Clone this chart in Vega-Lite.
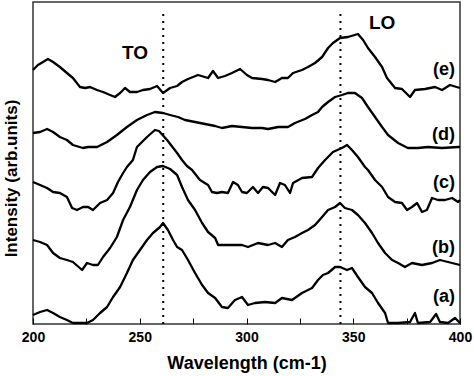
{
  "$schema": "https://vega.github.io/schema/vega-lite/v6.json",
  "width": 427,
  "height": 322,
  "autosize": {"type": "none"},
  "padding": {"left": 33, "top": 2, "right": 14, "bottom": 52},
  "background": "white",
  "config": {
    "view": {"stroke": "#333333", "strokeWidth": 1.5},
    "font": "Liberation Sans"
  },
  "datasets": {
    "spectra": [
      {"s":"e","x":200,"y":254},{"s":"e","x":202.3,"y":259},{"s":"e","x":204.7,"y":262},{"s":"e","x":207.0,"y":265},{"s":"e","x":209.4,"y":262},{"s":"e","x":212.6,"y":257},{"s":"e","x":215.9,"y":251},{"s":"e","x":218.7,"y":246},{"s":"e","x":222.0,"y":237},{"s":"e","x":224.4,"y":236},{"s":"e","x":226.7,"y":237},{"s":"e","x":230.0,"y":234},{"s":"e","x":232.8,"y":232},{"s":"e","x":236.1,"y":229},{"s":"e","x":238.4,"y":227},{"s":"e","x":240.8,"y":231},{"s":"e","x":243.1,"y":236},{"s":"e","x":245.4,"y":232},{"s":"e","x":248.7,"y":232},{"s":"e","x":251.5,"y":234},{"s":"e","x":254.8,"y":235},{"s":"e","x":258.1,"y":238},{"s":"e","x":260.9,"y":231},{"s":"e","x":264.2,"y":236},{"s":"e","x":267.5,"y":238},{"s":"e","x":269.8,"y":242},{"s":"e","x":272.6,"y":245},{"s":"e","x":277.3,"y":249},{"s":"e","x":282.0,"y":246},{"s":"e","x":284.3,"y":253},{"s":"e","x":286.7,"y":246},{"s":"e","x":289.9,"y":248},{"s":"e","x":293.2,"y":251},{"s":"e","x":297.0,"y":255},{"s":"e","x":300.2,"y":249},{"s":"e","x":302.6,"y":246},{"s":"e","x":307.3,"y":245},{"s":"e","x":310.1,"y":244},{"s":"e","x":313.4,"y":242},{"s":"e","x":316.6,"y":246},{"s":"e","x":319.4,"y":246},{"s":"e","x":321.8,"y":251},{"s":"e","x":326.0,"y":254},{"s":"e","x":328.8,"y":257},{"s":"e","x":332.1,"y":261},{"s":"e","x":335.4,"y":267},{"s":"e","x":338.2,"y":276},{"s":"e","x":340.5,"y":281},{"s":"e","x":343.8,"y":286},{"s":"e","x":347.5,"y":287},{"s":"e","x":352.2,"y":290},{"s":"e","x":354.6,"y":284},{"s":"e","x":356.9,"y":276},{"s":"e","x":360.2,"y":267},{"s":"e","x":363.5,"y":257},{"s":"e","x":365.8,"y":246},{"s":"e","x":369.6,"y":236},{"s":"e","x":372.8,"y":235},{"s":"e","x":376.6,"y":227},{"s":"e","x":378.9,"y":234},{"s":"e","x":383.6,"y":235},{"s":"e","x":388.3,"y":237},{"s":"e","x":391.6,"y":234},{"s":"e","x":395.3,"y":239},{"s":"e","x":400,"y":236},
      {"s":"d","x":200,"y":191},{"s":"d","x":203.3,"y":192},{"s":"d","x":206.6,"y":195},{"s":"d","x":209.4,"y":192},{"s":"d","x":212.6,"y":187},{"s":"d","x":215.9,"y":184},{"s":"d","x":218.7,"y":179},{"s":"d","x":223.4,"y":176},{"s":"d","x":225.8,"y":177},{"s":"d","x":230.0,"y":177},{"s":"d","x":234.7,"y":182},{"s":"d","x":239.3,"y":189},{"s":"d","x":244.0,"y":197},{"s":"d","x":248.7,"y":204},{"s":"d","x":253.4,"y":209},{"s":"d","x":257.1,"y":212},{"s":"d","x":260.9,"y":211},{"s":"d","x":264.2,"y":209},{"s":"d","x":267.9,"y":207},{"s":"d","x":271.2,"y":204},{"s":"d","x":275.9,"y":202},{"s":"d","x":280.6,"y":200},{"s":"d","x":285.3,"y":198},{"s":"d","x":288.5,"y":196},{"s":"d","x":293.2,"y":198},{"s":"d","x":297.9,"y":197},{"s":"d","x":302.6,"y":196},{"s":"d","x":307.3,"y":196},{"s":"d","x":310.1,"y":195},{"s":"d","x":314.8,"y":197},{"s":"d","x":319.4,"y":197},{"s":"d","x":322.7,"y":201},{"s":"d","x":327.4,"y":205},{"s":"d","x":330.7,"y":209},{"s":"d","x":333.5,"y":212},{"s":"d","x":335.4,"y":217},{"s":"d","x":338.2,"y":222},{"s":"d","x":341.5,"y":227},{"s":"d","x":344.7,"y":229},{"s":"d","x":347.5,"y":231},{"s":"d","x":350.8,"y":231},{"s":"d","x":354.1,"y":226},{"s":"d","x":356.9,"y":217},{"s":"d","x":360.2,"y":207},{"s":"d","x":363.5,"y":197},{"s":"d","x":366.3,"y":189},{"s":"d","x":371.0,"y":181},{"s":"d","x":375.6,"y":176},{"s":"d","x":380.3,"y":176},{"s":"d","x":385.0,"y":177},{"s":"d","x":391.6,"y":176},{"s":"d","x":399.1,"y":177},{"s":"d","x":400,"y":177},
      {"s":"c","x":200,"y":142},{"s":"c","x":203.3,"y":139},{"s":"c","x":206.6,"y":136},{"s":"c","x":209.4,"y":132},{"s":"c","x":212.6,"y":131},{"s":"c","x":215.9,"y":127},{"s":"c","x":218.3,"y":116},{"s":"c","x":220.6,"y":114},{"s":"c","x":223.4,"y":117},{"s":"c","x":225.8,"y":117},{"s":"c","x":228.1,"y":114},{"s":"c","x":231.4,"y":121},{"s":"c","x":234.7,"y":124},{"s":"c","x":237.5,"y":131},{"s":"c","x":239.8,"y":142},{"s":"c","x":242.2,"y":151},{"s":"c","x":244.0,"y":157},{"s":"c","x":246.8,"y":164},{"s":"c","x":248.7,"y":177},{"s":"c","x":253.4,"y":187},{"s":"c","x":257.1,"y":194},{"s":"c","x":259.0,"y":193},{"s":"c","x":262.8,"y":184},{"s":"c","x":267.5,"y":171},{"s":"c","x":269.8,"y":164},{"s":"c","x":272.1,"y":158},{"s":"c","x":274.5,"y":154},{"s":"c","x":278.2,"y":144},{"s":"c","x":282.0,"y":139},{"s":"c","x":283.8,"y":132},{"s":"c","x":286.2,"y":131},{"s":"c","x":288.5,"y":132},{"s":"c","x":291.3,"y":131},{"s":"c","x":293.7,"y":142},{"s":"c","x":296.0,"y":139},{"s":"c","x":297.9,"y":132},{"s":"c","x":300.2,"y":131},{"s":"c","x":303.0,"y":137},{"s":"c","x":305.4,"y":131},{"s":"c","x":307.7,"y":137},{"s":"c","x":310.1,"y":136},{"s":"c","x":313.4,"y":129},{"s":"c","x":315.7,"y":141},{"s":"c","x":318.0,"y":139},{"s":"c","x":320.4,"y":131},{"s":"c","x":321.8,"y":141},{"s":"c","x":326.0,"y":146},{"s":"c","x":330.7,"y":147},{"s":"c","x":333.5,"y":156},{"s":"c","x":336.8,"y":164},{"s":"c","x":340.5,"y":172},{"s":"c","x":344.7,"y":176},{"s":"c","x":347.1,"y":179},{"s":"c","x":349.4,"y":174},{"s":"c","x":352.2,"y":167},{"s":"c","x":355.5,"y":157},{"s":"c","x":356.9,"y":154},{"s":"c","x":360.2,"y":144},{"s":"c","x":363.5,"y":137},{"s":"c","x":366.3,"y":127},{"s":"c","x":369.6,"y":122},{"s":"c","x":372.8,"y":121},{"s":"c","x":375.2,"y":114},{"s":"c","x":377.5,"y":117},{"s":"c","x":379.9,"y":121},{"s":"c","x":382.2,"y":112},{"s":"c","x":384.5,"y":114},{"s":"c","x":386.9,"y":126},{"s":"c","x":389.7,"y":124},{"s":"c","x":393.0,"y":124},{"s":"c","x":396.3,"y":126},{"s":"c","x":399.1,"y":122},{"s":"c","x":400,"y":124},
      {"s":"b","x":200,"y":84},{"s":"b","x":203.3,"y":82},{"s":"b","x":206.6,"y":79},{"s":"b","x":209.4,"y":71},{"s":"b","x":212.6,"y":66},{"s":"b","x":215.9,"y":64},{"s":"b","x":218.7,"y":62},{"s":"b","x":223.0,"y":54},{"s":"b","x":225.3,"y":61},{"s":"b","x":228.1,"y":59},{"s":"b","x":230.4,"y":59},{"s":"b","x":232.8,"y":67},{"s":"b","x":236.1,"y":76},{"s":"b","x":239.3,"y":87},{"s":"b","x":242.2,"y":104},{"s":"b","x":245.4,"y":117},{"s":"b","x":248.7,"y":134},{"s":"b","x":251.5,"y":144},{"s":"b","x":254.8,"y":152},{"s":"b","x":258.1,"y":157},{"s":"b","x":260.9,"y":158},{"s":"b","x":264.2,"y":155},{"s":"b","x":267.5,"y":149},{"s":"b","x":269.8,"y":137},{"s":"b","x":272.6,"y":124},{"s":"b","x":275.9,"y":114},{"s":"b","x":279.2,"y":101},{"s":"b","x":282.0,"y":92},{"s":"b","x":285.3,"y":86},{"s":"b","x":286.7,"y":79},{"s":"b","x":291.3,"y":79},{"s":"b","x":297.9,"y":79},{"s":"b","x":300.7,"y":77},{"s":"b","x":305.4,"y":81},{"s":"b","x":310.1,"y":79},{"s":"b","x":313.4,"y":81},{"s":"b","x":316.6,"y":77},{"s":"b","x":319.4,"y":84},{"s":"b","x":322.7,"y":87},{"s":"b","x":326.0,"y":91},{"s":"b","x":328.8,"y":94},{"s":"b","x":332.1,"y":99},{"s":"b","x":335.4,"y":107},{"s":"b","x":338.2,"y":114},{"s":"b","x":341.5,"y":117},{"s":"b","x":343.8,"y":121},{"s":"b","x":346.1,"y":116},{"s":"b","x":349.4,"y":114},{"s":"b","x":352.2,"y":109},{"s":"b","x":355.5,"y":101},{"s":"b","x":358.8,"y":91},{"s":"b","x":361.6,"y":81},{"s":"b","x":364.9,"y":71},{"s":"b","x":368.2,"y":64},{"s":"b","x":371.0,"y":61},{"s":"b","x":374.2,"y":57},{"s":"b","x":377.5,"y":61},{"s":"b","x":382.2,"y":59},{"s":"b","x":386.9,"y":61},{"s":"b","x":390.6,"y":64},{"s":"b","x":394.4,"y":62},{"s":"b","x":400,"y":59},
      {"s":"a","x":200,"y":9},{"s":"a","x":203.3,"y":12},{"s":"a","x":206.6,"y":14},{"s":"a","x":209.4,"y":11},{"s":"a","x":212.6,"y":7},{"s":"a","x":215.9,"y":4},{"s":"a","x":218.7,"y":1},{"s":"a","x":222.0,"y":1},{"s":"a","x":225.3,"y":1},{"s":"a","x":228.1,"y":4},{"s":"a","x":231.4,"y":11},{"s":"a","x":234.7,"y":17},{"s":"a","x":237.5,"y":27},{"s":"a","x":240.8,"y":37},{"s":"a","x":244.0,"y":51},{"s":"a","x":246.8,"y":64},{"s":"a","x":250.1,"y":74},{"s":"a","x":253.4,"y":84},{"s":"a","x":256.2,"y":91},{"s":"a","x":259.5,"y":97},{"s":"a","x":260.9,"y":101},{"s":"a","x":263.2,"y":94},{"s":"a","x":265.6,"y":84},{"s":"a","x":267.5,"y":77},{"s":"a","x":269.8,"y":74},{"s":"a","x":272.6,"y":64},{"s":"a","x":275.9,"y":51},{"s":"a","x":279.2,"y":39},{"s":"a","x":282.0,"y":31},{"s":"a","x":285.3,"y":26},{"s":"a","x":288.5,"y":17},{"s":"a","x":291.3,"y":16},{"s":"a","x":294.6,"y":24},{"s":"a","x":297.9,"y":27},{"s":"a","x":300.7,"y":19},{"s":"a","x":304.0,"y":21},{"s":"a","x":308.7,"y":22},{"s":"a","x":313.4,"y":21},{"s":"a","x":316.6,"y":26},{"s":"a","x":321.3,"y":24},{"s":"a","x":326.0,"y":31},{"s":"a","x":330.7,"y":36},{"s":"a","x":333.5,"y":44},{"s":"a","x":335.8,"y":49},{"s":"a","x":338.2,"y":51},{"s":"a","x":341.5,"y":57},{"s":"a","x":343.8,"y":57},{"s":"a","x":347.1,"y":54},{"s":"a","x":349.4,"y":56},{"s":"a","x":352.2,"y":47},{"s":"a","x":355.5,"y":37},{"s":"a","x":358.8,"y":31},{"s":"a","x":361.6,"y":21},{"s":"a","x":364.9,"y":11},{"s":"a","x":366.3,"y":1},{"s":"a","x":371.0,"y":1},{"s":"a","x":376.6,"y":2},{"s":"a","x":378.9,"y":11},{"s":"a","x":380.3,"y":1},{"s":"a","x":386.0,"y":2},{"s":"a","x":388.8,"y":10},{"s":"a","x":390.6,"y":2},{"s":"a","x":394.4,"y":1},{"s":"a","x":397.7,"y":6},{"s":"a","x":400,"y":1}
    ],
    "rules": [
      {"x": 261, "y": 0, "y2": 312},
      {"x": 344, "y": 0, "y2": 311}
    ],
    "labels": [
      {"x": 397.7, "y": 254, "t": "(e)"},
      {"x": 397.7, "y": 189, "t": "(d)"},
      {"x": 397.7, "y": 141, "t": "(c)"},
      {"x": 397.7, "y": 76, "t": "(b)"},
      {"x": 397.7, "y": 27, "t": "(a)"}
    ],
    "peaks": [
      {"x": 247.8, "y": 271, "t": "TO"},
      {"x": 363.5, "y": 301, "t": "LO"}
    ]
  },
  "layer": [
    {
      "data": {"name": "rules"},
      "mark": {"type": "rule", "color": "black", "strokeWidth": 2, "strokeDash": [2, 5]},
      "encoding": {
        "x": {"field": "x", "type": "quantitative", "scale": {"domain": [200, 400]}},
        "y": {"field": "y", "type": "quantitative", "scale": {"domain": [0, 322]}},
        "y2": {"field": "y2"}
      }
    },
    {
      "data": {"name": "spectra"},
      "mark": {"type": "line", "color": "black", "strokeWidth": 2.3, "strokeJoin": "round"},
      "encoding": {
        "x": {
          "field": "x", "type": "quantitative",
          "scale": {"domain": [200, 400], "nice": false},
          "axis": {
            "values": [200, 225, 250, 275, 300, 325, 350, 375, 400],
            "labelExpr": "datum.value % 50 == 0 ? datum.label : ''",
            "tickSize": -6, "tickColor": "black", "tickWidth": 1,
            "domain": false, "grid": false,
            "labelFont": "Liberation Sans", "labelFontWeight": "bold", "labelFontSize": 14, "labelColor": "black",
            "labelPadding": 12, "labelFlush": false,
            "title": "Wavelength (cm-1)",
            "titleFont": "Liberation Sans", "titleFontWeight": "bold", "titleFontSize": 18, "titleColor": "black",
            "titlePadding": 10
          }
        },
        "y": {
          "field": "y", "type": "quantitative",
          "scale": {"domain": [0, 322], "nice": false},
          "axis": {
            "labels": false, "ticks": false, "domain": false, "grid": false,
            "title": "Intensity (arb.units)",
            "titleFont": "Liberation Sans", "titleFontWeight": "bold", "titleFontSize": 17, "titleColor": "black",
            "titleX": -13, "titleY": 176, "titleBaseline": "bottom"
          }
        },
        "detail": {"field": "s", "type": "nominal"}
      }
    },
    {
      "data": {"name": "labels"},
      "mark": {"type": "text", "align": "right", "baseline": "middle", "font": "Liberation Sans", "fontWeight": "bold", "fontSize": 18, "color": "black"},
      "encoding": {
        "x": {"field": "x", "type": "quantitative"},
        "y": {"field": "y", "type": "quantitative"},
        "text": {"field": "t"}
      }
    },
    {
      "data": {"name": "peaks"},
      "mark": {"type": "text", "align": "center", "baseline": "middle", "font": "Liberation Sans", "fontWeight": "bold", "fontSize": 19, "color": "black"},
      "encoding": {
        "x": {"field": "x", "type": "quantitative"},
        "y": {"field": "y", "type": "quantitative"},
        "text": {"field": "t"}
      }
    }
  ]
}
